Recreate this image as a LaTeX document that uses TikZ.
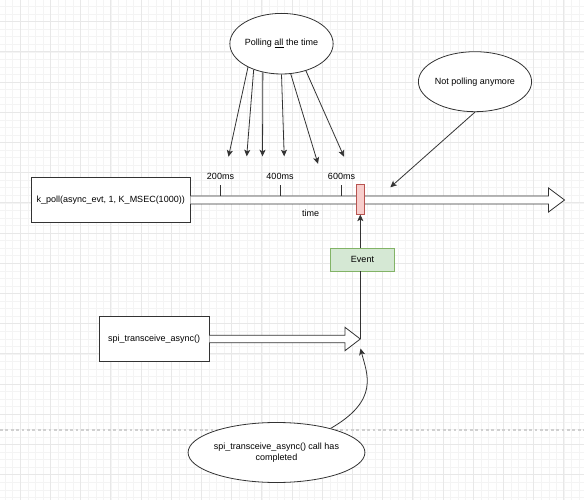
\documentclass[tikz,border=0pt]{standalone}
\usepackage{fontspec}
\setmainfont{Liberation Sans}
\usetikzlibrary{arrows.meta,calc,shapes.geometric}
\definecolor{linec}{HTML}{333333}
\definecolor{gmaj}{HTML}{E8E8E8}
\definecolor{gmin}{HTML}{F4F4F4}
\definecolor{pagebrk}{HTML}{D0D0D0}
\definecolor{redfill}{HTML}{F8CECC}
\definecolor{redline}{HTML}{B85450}
\definecolor{greenfill}{HTML}{D5E8D4}
\definecolor{greenline}{HTML}{82B366}
\tikzset{
  gridminor/.style={draw=gmin, line width=0.6pt},
  gridmajor/.style={draw=gmaj, line width=0.9pt},
  txt/.style={font=\fontsize{9}{11}\selectfont, text=black},
  box/.style={draw=linec, fill=white, line width=0.8pt, inner sep=0pt, txt},
  oval/.style={ellipse, draw=linec, fill=white, line width=0.8pt, inner sep=0pt, txt, align=center},
  flex/.style={draw=linec, fill=white, line width=0.8pt, line join=miter},
  conn/.style={draw=linec, line width=0.8pt, -{Stealth[length=6.5pt,width=6pt,inset=1.5pt]}},
  plain/.style={draw=linec, line width=0.8pt},
  tick/.style={draw=linec, line width=0.8pt},
  lbl/.style={txt, inner sep=0pt}
}
\begin{document}
\begin{tikzpicture}[x=1pt,y=-1pt]
\useasboundingbox (0,0) rectangle (584,500);
\fill[white] (0,0) rectangle (584,500);
% background grid
\foreach \i in {-2,...,76} {
  \draw[gridminor] ({20.3+7.55*\i},0) -- ({20.3+7.55*\i},500);
}
\foreach \i in {-2,...,64} {
  \draw[gridminor] (0,{21.7+7.55*\i}) -- (584,{21.7+7.55*\i});
}
\foreach \i in {0,...,18} {
  \draw[gridmajor] ({20.3+30.2*\i},0) -- ({20.3+30.2*\i},500);
}
\foreach \i in {0,...,15} {
  \draw[gridmajor] (0,{21.7+30.2*\i}) -- (584,{21.7+30.2*\i});
}
\draw[pagebrk, line width=1.2pt, dash pattern=on 2.7pt off 2.7pt] (0,430) -- (584,430);

% nodes
\node[box, minimum width=158.5pt, minimum height=45pt] (kpoll) at (110.75,200) {k\_poll(async\_evt, 1, K\_MSEC(1000))};
\node[box, minimum width=109.6pt, minimum height=45.3pt] (spi) at (154.2,339) {spi\_transceive\_async()};
\node[oval, minimum width=92pt, minimum height=60.6pt] (poll) at (281.5,43.7) {Polling \underline{all} the time};
\node[oval, minimum width=91.2pt, minimum height=60pt] (notpoll) at (475,81.7) {Not polling anymore};
\node[oval, minimum width=151pt, minimum height=60pt] (done) at (276.5,452.5) {spi\_transceive\_async() call has\\completed};

% time arrow
\coordinate (timetip) at (564.5,200);
\draw[flex] ($(kpoll.east)+(0,-4)$) -- ($(timetip)+(-16,-4)$) -- ($(timetip)+(-16,-12)$) -- (timetip) -- ($(timetip)+(-16,12)$) -- ($(timetip)+(-16,4)$) -- ($(kpoll.east)+(0,4)$);

% ticks and labels
\foreach \x/\t in {220.5/200ms, 280/400ms, 341.5/600ms} {
  \draw[tick] (\x,185.5) -- (\x,196);
  \node[lbl] at (\x,176) {\t};
}
\node[lbl] (timelbl) at (310.7,213.5) {time};

% red marker
\node[draw=redline, fill=redfill, line width=0.8pt, minimum width=7.3pt, minimum height=30pt, inner sep=0pt] (mark) at (360.3,199.2) {};

% event
\node[box, draw=greenline, fill=greenfill, minimum width=63.6pt, minimum height=22.7pt] (event) at (362.5,259.7) {Event};

% spi arrow
\coordinate (spitip) at (360.3,339);
\draw[flex] ($(spi.east)+(0,-3.7)$) -- ($(spitip)+(-15.3,-3.7)$) -- ($(spitip)+(-15.3,-11.7)$) -- (spitip) -- ($(spitip)+(-15.3,11.7)$) -- ($(spitip)+(-15.3,3.7)$) -- ($(spi.east)+(0,3.7)$);

% event connectors
\draw[plain] (spitip) -- (spitip |- event.south);
\draw[conn] (spitip |- event.north) -- (mark.south);

% polling arrows
\coordinate (p1) at (228.5,156.7);
\coordinate (p2) at (246.7,156.3);
\coordinate (p3) at (262.5,156.3);
\coordinate (p4) at (284.2,156.3);
\coordinate (p5) at (318,163.8);
\coordinate (p6) at (344,156.7);
\draw[conn] (poll.-145) -- (p1);
\draw[conn] (poll.-137) -- (p2);
\draw[conn] (poll.-123) -- (p3);
\draw[conn] (poll.-90) -- (p4);
\draw[conn] (poll.-73) -- (p5);
\draw[conn] (poll.-48) -- (p6);

% not polling arrow
\coordinate (np) at (390.3,187.3);
\draw[conn] (notpoll.south) -- (np);

% curved arrow
\coordinate (ce) at (360.5,348.5);
\draw[conn] (done.24) .. controls (380,400) and (367,374) .. (ce);
\end{tikzpicture}
\end{document}
